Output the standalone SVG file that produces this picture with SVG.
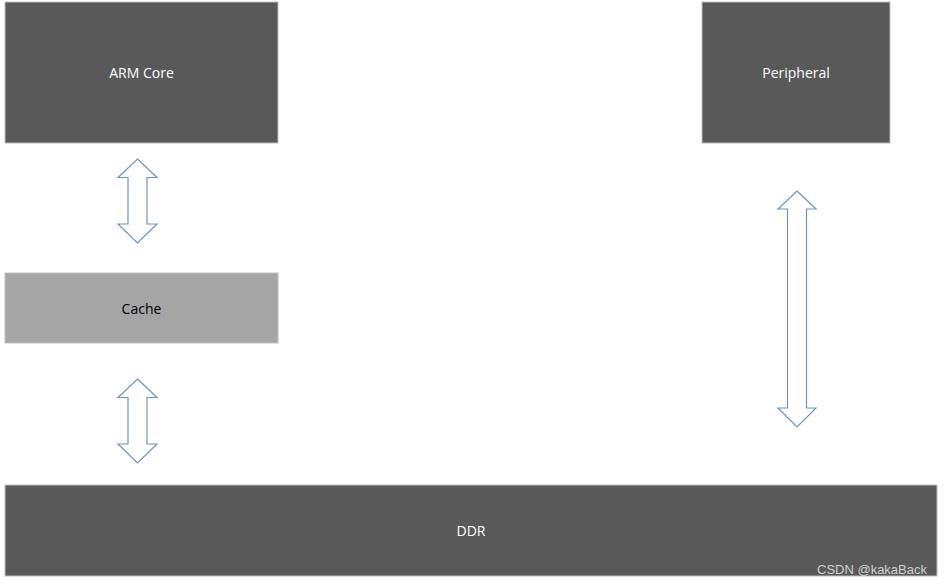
<svg xmlns="http://www.w3.org/2000/svg" width="945" height="585" viewBox="0 0 945 585">
<style>
.box{stroke:#bfbfbf;stroke-width:1}
.dark{fill:#595959}
.light{fill:#a5a5a5}
.lbl{font-family:"Open Sans","Liberation Sans",sans-serif;font-size:14px;text-anchor:middle;dominant-baseline:central}
.w{fill:#ffffff}
.k{fill:#000000}
.arr{fill:#ffffff;stroke:#6f94c4;stroke-width:1.2;stroke-linejoin:miter}
.wm{font-family:"Liberation Sans","Noto Sans",sans-serif;font-size:13px;fill:#d0d0d0}
</style>
<rect width="945" height="585" fill="#ffffff"/>
<g id="arm-core"><rect class="box dark" x="5" y="2" width="273" height="141"/><text class="lbl w" x="141.5" y="72">ARM Core</text></g>
<g id="peripheral"><rect class="box dark" x="702" y="2" width="188" height="141"/><text class="lbl w" x="796" y="72">Peripheral</text></g>
<g id="cache"><rect class="box light" x="5" y="273" width="273" height="70"/><text class="lbl k" x="141.5" y="308">Cache</text></g>
<g id="ddr"><rect class="box dark" x="5" y="485" width="932" height="91"/><text class="lbl w" x="471" y="530">DDR</text></g>
<g id="connectors">
<path class="arr" d="M137.5 159 L157 177.5 L147 177.5 L147 224 L157 224 L137.5 243 L118 224 L128 224 L128 177.5 L118 177.5 Z"/>
<path class="arr" d="M137.5 379 L157 397.5 L147 397.5 L147 444 L157 444 L137.5 463 L118 444 L128 444 L128 397.5 L118 397.5 Z"/>
<path class="arr" d="M797 191 L816 209 L806.5 209 L806.5 408 L816 408 L797 427 L778 408 L787.5 408 L787.5 209 L778 209 Z"/>
</g>
<text class="wm" x="817" y="574">CSDN @kakaBack</text>
</svg>
